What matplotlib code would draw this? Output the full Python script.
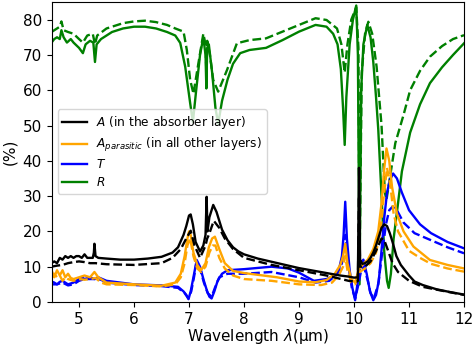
import matplotlib
matplotlib.use("Agg")
import matplotlib.pyplot as plt

# solid = case 1, dashed = case 2
wl_A1 = [4.5, 4.55, 4.6, 4.65, 4.7, 4.75, 4.8, 4.85, 4.9, 4.95, 5.0, 5.05, 5.1, 5.15, 5.2, 5.25,
         5.27, 5.28, 5.3, 5.35, 5.5, 5.75, 6.0, 6.25, 6.5, 6.7, 6.8, 6.9, 6.95, 7.0, 7.03, 7.07,
         7.12, 7.2, 7.26, 7.3, 7.32, 7.335, 7.37, 7.44, 7.5, 7.55, 7.6, 7.7, 7.8, 7.9, 8.0, 8.25,
         8.5, 8.75, 9.0, 9.25, 9.5, 9.75, 9.9, 10.0, 10.07, 10.09, 10.11, 10.15, 10.2, 10.25,
         10.3, 10.35, 10.4, 10.45, 10.5, 10.55, 10.6, 10.65, 10.7, 10.77, 10.85, 11.0, 11.1,
         11.25, 11.5, 11.75, 12.0]
A1 = [11, 11.5, 11, 12.5, 12, 13, 12.5, 13, 12.5, 13, 13, 12.5, 13.5, 12.5, 12.5, 12.5,
      14, 16.5, 13, 12.5, 12.3, 12, 12, 12.3, 12.8, 14, 15.5, 19, 21.5, 24.5, 24.8, 22,
      17, 14.3, 16, 19, 29.8, 20, 24, 27.5, 25.5, 23, 20.5, 17.5, 15.5, 14.3, 13.5, 12.3,
      11.4, 10.5, 9.6, 8.9, 8.2, 7.5, 7.2, 6.9, 7, 38, 12, 10.8, 11, 11.5,
      12.5, 14, 16, 18.5, 21, 22, 21.5, 19.5, 17, 13, 10.5, 7.5, 5.8,
      4.8, 3.6, 2.8, 2.1]

wl_A2 = [4.5, 4.6, 4.7, 4.8, 4.9, 5.0, 5.1, 5.2, 5.3, 5.5, 6.0, 6.5, 6.7, 6.85, 6.95, 7.03,
         7.1, 7.2, 7.3, 7.33, 7.36, 7.45, 7.55, 7.65, 7.8, 8.0, 8.5, 9.0, 9.5, 9.9, 10.05, 10.07,
         10.09, 10.11, 10.2, 10.3, 10.4, 10.5, 10.55, 10.62, 10.7, 10.8, 11.0, 11.25, 11.5, 12.0]
A2 = [10, 10.3, 10.5, 11, 11.3, 11.5, 11.3, 11, 11, 10.7, 10.5, 11, 12.5, 15, 18, 20.2,
      16, 12.5, 16, 18, 19, 23, 21, 18, 15, 12.5, 10.5, 9, 7.5, 6, 5.8, 6,
      30, 10, 10, 11.5, 14.5, 18, 17.5, 14.5, 11, 8.5, 6, 4.3, 3.5, 2]

wl_P1 = [4.5, 4.55, 4.6, 4.65, 4.7, 4.75, 4.8, 4.85, 4.9, 5.0, 5.1, 5.2, 5.28, 5.35, 5.5, 6.0,
         6.5, 6.75, 6.85, 6.92, 6.97, 7.0, 7.03, 7.08, 7.15, 7.22, 7.3, 7.36, 7.42, 7.47, 7.55,
         7.65, 7.8, 8.0, 8.3, 8.6, 9.0, 9.3, 9.5, 9.65, 9.75, 9.8, 9.84, 9.88, 9.95, 10.02,
         10.08, 10.15, 10.25, 10.35, 10.44, 10.5, 10.55, 10.59, 10.64, 10.69, 10.78, 10.9,
         11.08, 11.38, 11.7, 12.0]
P1 = [9, 7, 9, 7.5, 9, 7, 8, 6.8, 6.5, 7, 7.5, 7, 8.5, 7, 5.5, 5,
      4.6, 5.5, 8, 13, 18, 20, 19, 14, 10.5, 9, 11, 15.5, 18, 18.5, 15,
      11, 8.8, 8.2, 7.6, 7, 5.8, 5.6, 6.2, 8, 10.5, 13, 16.5, 11, 6.5, 5.5,
      9, 10.5, 12, 15, 20, 28, 38, 43.5, 40, 32.7, 25, 20,
      15.7, 11.9, 10.5, 9.5]

wl_P2 = [4.5, 4.55, 4.6, 4.65, 4.7, 4.75, 4.8, 4.9, 5.0, 5.1, 5.2, 5.3, 5.4, 5.5, 6.0, 6.5,
         6.75, 6.85, 6.92, 6.97, 7.02, 7.08, 7.15, 7.22, 7.3, 7.37, 7.43, 7.48, 7.55, 7.65, 7.8,
         8.0, 8.5, 9.0, 9.4, 9.6, 9.72, 9.8, 9.84, 9.88, 9.95, 10.02, 10.1, 10.2, 10.3, 10.4,
         10.48, 10.54, 10.6, 10.66, 10.72, 10.8, 11.0, 11.2, 11.4, 11.7, 12.0]
P2 = [7, 8, 7, 7.5, 6, 7, 6.5, 6, 6.5, 6.3, 6.5, 6.8, 5.5, 5, 4.8, 4.4,
      5, 7, 11, 16, 18, 13, 9.5, 8.5, 10, 14, 16, 16, 12.5, 9.5, 7.5,
      6.5, 6, 5, 4.8, 5.5, 7.5, 10, 13, 9, 5.5, 5, 8.5, 9.5, 11, 14,
      20, 30, 38, 33, 25, 20, 14.5, 12.5, 10.8, 9.5, 8.6]

wl_T1 = [4.5, 4.55, 4.6, 4.65, 4.7, 4.75, 4.8, 4.9, 5.0, 5.05, 5.1, 5.2, 5.28, 5.35, 5.5, 6.0,
         6.5, 6.8, 6.9, 6.95, 6.99, 7.03, 7.08, 7.14, 7.2, 7.27, 7.33, 7.37, 7.41, 7.46, 7.52,
         7.6, 7.7, 8.0, 8.5, 8.8, 9.0, 9.27, 9.5, 9.65, 9.73, 9.78, 9.81, 9.84, 9.87, 9.92,
         9.97, 10.02, 10.07, 10.12, 10.17, 10.23, 10.29, 10.35, 10.4, 10.45, 10.5, 10.55, 10.6,
         10.65, 10.71, 10.78, 10.87, 11.0, 11.2, 11.4, 11.7, 12.0]
T1 = [5.8, 5.5, 5, 5.7, 6, 5.5, 5, 5.5, 6.5, 7, 6.5, 7, 6.5, 7, 6, 5,
      4.7, 4.3, 3, 2, 0.8, 3, 7, 11.9, 10, 6, 3, 1.5, 1, 3, 6,
      8, 9, 9.3, 10, 9.5, 8.3, 6, 6.5, 7.5, 9.5, 13, 19, 28.4, 18, 9,
      4, 0.5, 6, 11, 12, 8, 3, 0.5, 2, 6, 14.7, 24, 31,
      34.5, 36.4, 35, 31, 26, 22, 19.5, 17, 15.2]

wl_T2 = [4.5, 4.6, 4.7, 4.8, 4.9, 5.0, 5.1, 5.2, 5.3, 5.4, 5.5, 6.0, 6.5, 6.8, 6.92, 6.99,
         7.04, 7.09, 7.14, 7.2, 7.27, 7.34, 7.41, 7.47, 7.55, 7.7, 8.0, 8.5, 9.0, 9.3, 9.55,
         9.7, 9.78, 9.84, 9.9, 9.96, 10.02, 10.08, 10.13, 10.18, 10.25, 10.3, 10.36, 10.44,
         10.52, 10.58, 10.64, 10.7, 10.78, 10.9, 11.1, 11.4, 11.7, 12.0]
T2 = [5, 5, 5.5, 4.7, 5, 6, 6.5, 6.5, 6.5, 6.3, 5.5, 4.8, 4.5, 4, 2.5, 1,
      3, 7, 11.5, 9.5, 5.5, 2.5, 1.5, 4, 7, 8, 8, 8.5, 7, 5.5, 6,
      8, 11, 19, 10, 4, 1, 5, 9, 10, 6, 2.5, 1, 5,
      15, 22, 26, 27, 26, 22.5, 19.5, 17.5, 15.5, 13.8]

wl_R1 = [4.5, 4.55, 4.6, 4.65, 4.68, 4.72, 4.78, 4.85, 4.9, 5.0, 5.07, 5.12, 5.2, 5.26, 5.29,
         5.32, 5.4, 5.6, 5.8, 6.0, 6.2, 6.4, 6.6, 6.75, 6.84, 6.93, 7.02, 7.07, 7.13, 7.2, 7.26,
         7.3, 7.315, 7.33, 7.36, 7.42, 7.48, 7.53, 7.6, 7.7, 7.8, 7.93, 8.1, 8.4, 8.7, 9.0, 9.3,
         9.5, 9.62, 9.7, 9.76, 9.8, 9.83, 9.86, 9.92, 9.98, 10.04, 10.07, 10.1, 10.13, 10.17,
         10.24, 10.3, 10.35, 10.4, 10.44, 10.5, 10.55, 10.6, 10.63, 10.67, 10.72, 10.8, 10.87,
         11.02, 11.2, 11.38, 11.6, 11.8, 12.0]
R1 = [73.5, 74.5, 75, 74.5, 77, 75, 73.5, 74.5, 73.5, 72, 70.5, 73, 74, 73.5, 68,
      73, 74.5, 76.5, 77.5, 78, 78, 77.5, 76.5, 75.5, 73.4, 66.7, 56.4, 51, 60, 70, 75,
      70, 60.5, 72, 73, 65, 55, 50.5, 57, 63, 67.5, 70.5, 71.4, 72, 74.2, 76.6, 78.5,
      78, 76, 73, 66, 55, 44.5, 58, 73, 80, 84, 70, 5, 60, 73,
      78.5, 75, 68, 58, 49, 30, 14, 6, 4, 8, 18, 28, 37,
      48, 56, 62, 66.5, 70, 73.3]

wl_R2 = [4.5, 4.55, 4.6, 4.65, 4.68, 4.72, 4.8, 4.9, 5.0, 5.07, 5.15, 5.25, 5.29, 5.33, 5.5,
         5.8, 6.0, 6.2, 6.4, 6.6, 6.75, 6.9, 6.96, 7.02, 7.08, 7.17, 7.26, 7.3, 7.315, 7.33,
         7.38, 7.44, 7.53, 7.69, 7.87, 8.1, 8.4, 8.7, 9.0, 9.3, 9.5, 9.69, 9.77, 9.83, 9.88,
         9.95, 10.04, 10.08, 10.1, 10.14, 10.2, 10.26, 10.33, 10.41, 10.5, 10.56, 10.59, 10.65,
         10.75, 10.9, 11.02, 11.2, 11.38, 11.6, 11.8, 12.0]
R2 = [76.5, 77, 77.5, 78, 79.5, 77, 76.5, 76, 74.5, 73.5, 75.5, 76, 73, 75.5, 77.5,
      79, 79.5, 79.7, 79.3, 78.5, 77.5, 76.6, 71.4, 63, 59, 67.6, 76, 73, 65, 74,
      70, 62.9, 59.6, 65.7, 73.3, 74.2, 74.7, 76.6, 78.5, 80.4, 79.9, 77.5, 73, 65, 73,
      80, 83.5, 72, 10, 65, 76, 79.4, 76, 66.7, 50, 31, 29, 35,
      45, 53, 60, 65.5, 69.5, 72.5, 74.5, 75.6]

labels = [r"$A$ (in the absorber layer)", r"$A_{parasitic}$ (in all other layers)", r"$T$", r"$R$"]
colors = ["black", "orange", "blue", "green"]

fig = plt.figure(figsize=(4.74, 3.49), dpi=100)
ax = fig.add_axes([0.1087, 0.1347, 0.8703, 0.8596])

series = [
    (wl_R1, R1, wl_R2, R2, colors[3]),
    (wl_T1, T1, wl_T2, T2, colors[2]),
    (wl_P1, P1, wl_P2, P2, colors[1]),
    (wl_A1, A1, wl_A2, A2, colors[0]),
]
handles = {}
for x1, y1, x2, y2, c in series:
    h, = ax.plot(x1, y1, color=c, lw=1.7)
    ax.plot(x2, y2, color=c, lw=1.7, ls="--")
    handles[c] = h

ax.legend([handles[c] for c in colors], labels, loc="upper left",
          bbox_to_anchor=(0.0, 0.662), fontsize=8.7, handlelength=2.0,
          labelspacing=0.38)

ax.set_xlim(4.5, 12)
ax.set_ylim(0, 85)
ax.set_xticks(range(5, 13))
ax.set_yticks(range(0, 81, 10))
ax.tick_params(labelsize=11)
ax.set_xlabel(r"Wavelength $\lambda$(μm)", fontsize=11, labelpad=0)
ax.set_ylabel("(%)", fontsize=11)
for s in ax.spines.values():
    s.set_color("black")

fig.savefig("out.png", dpi=100)
